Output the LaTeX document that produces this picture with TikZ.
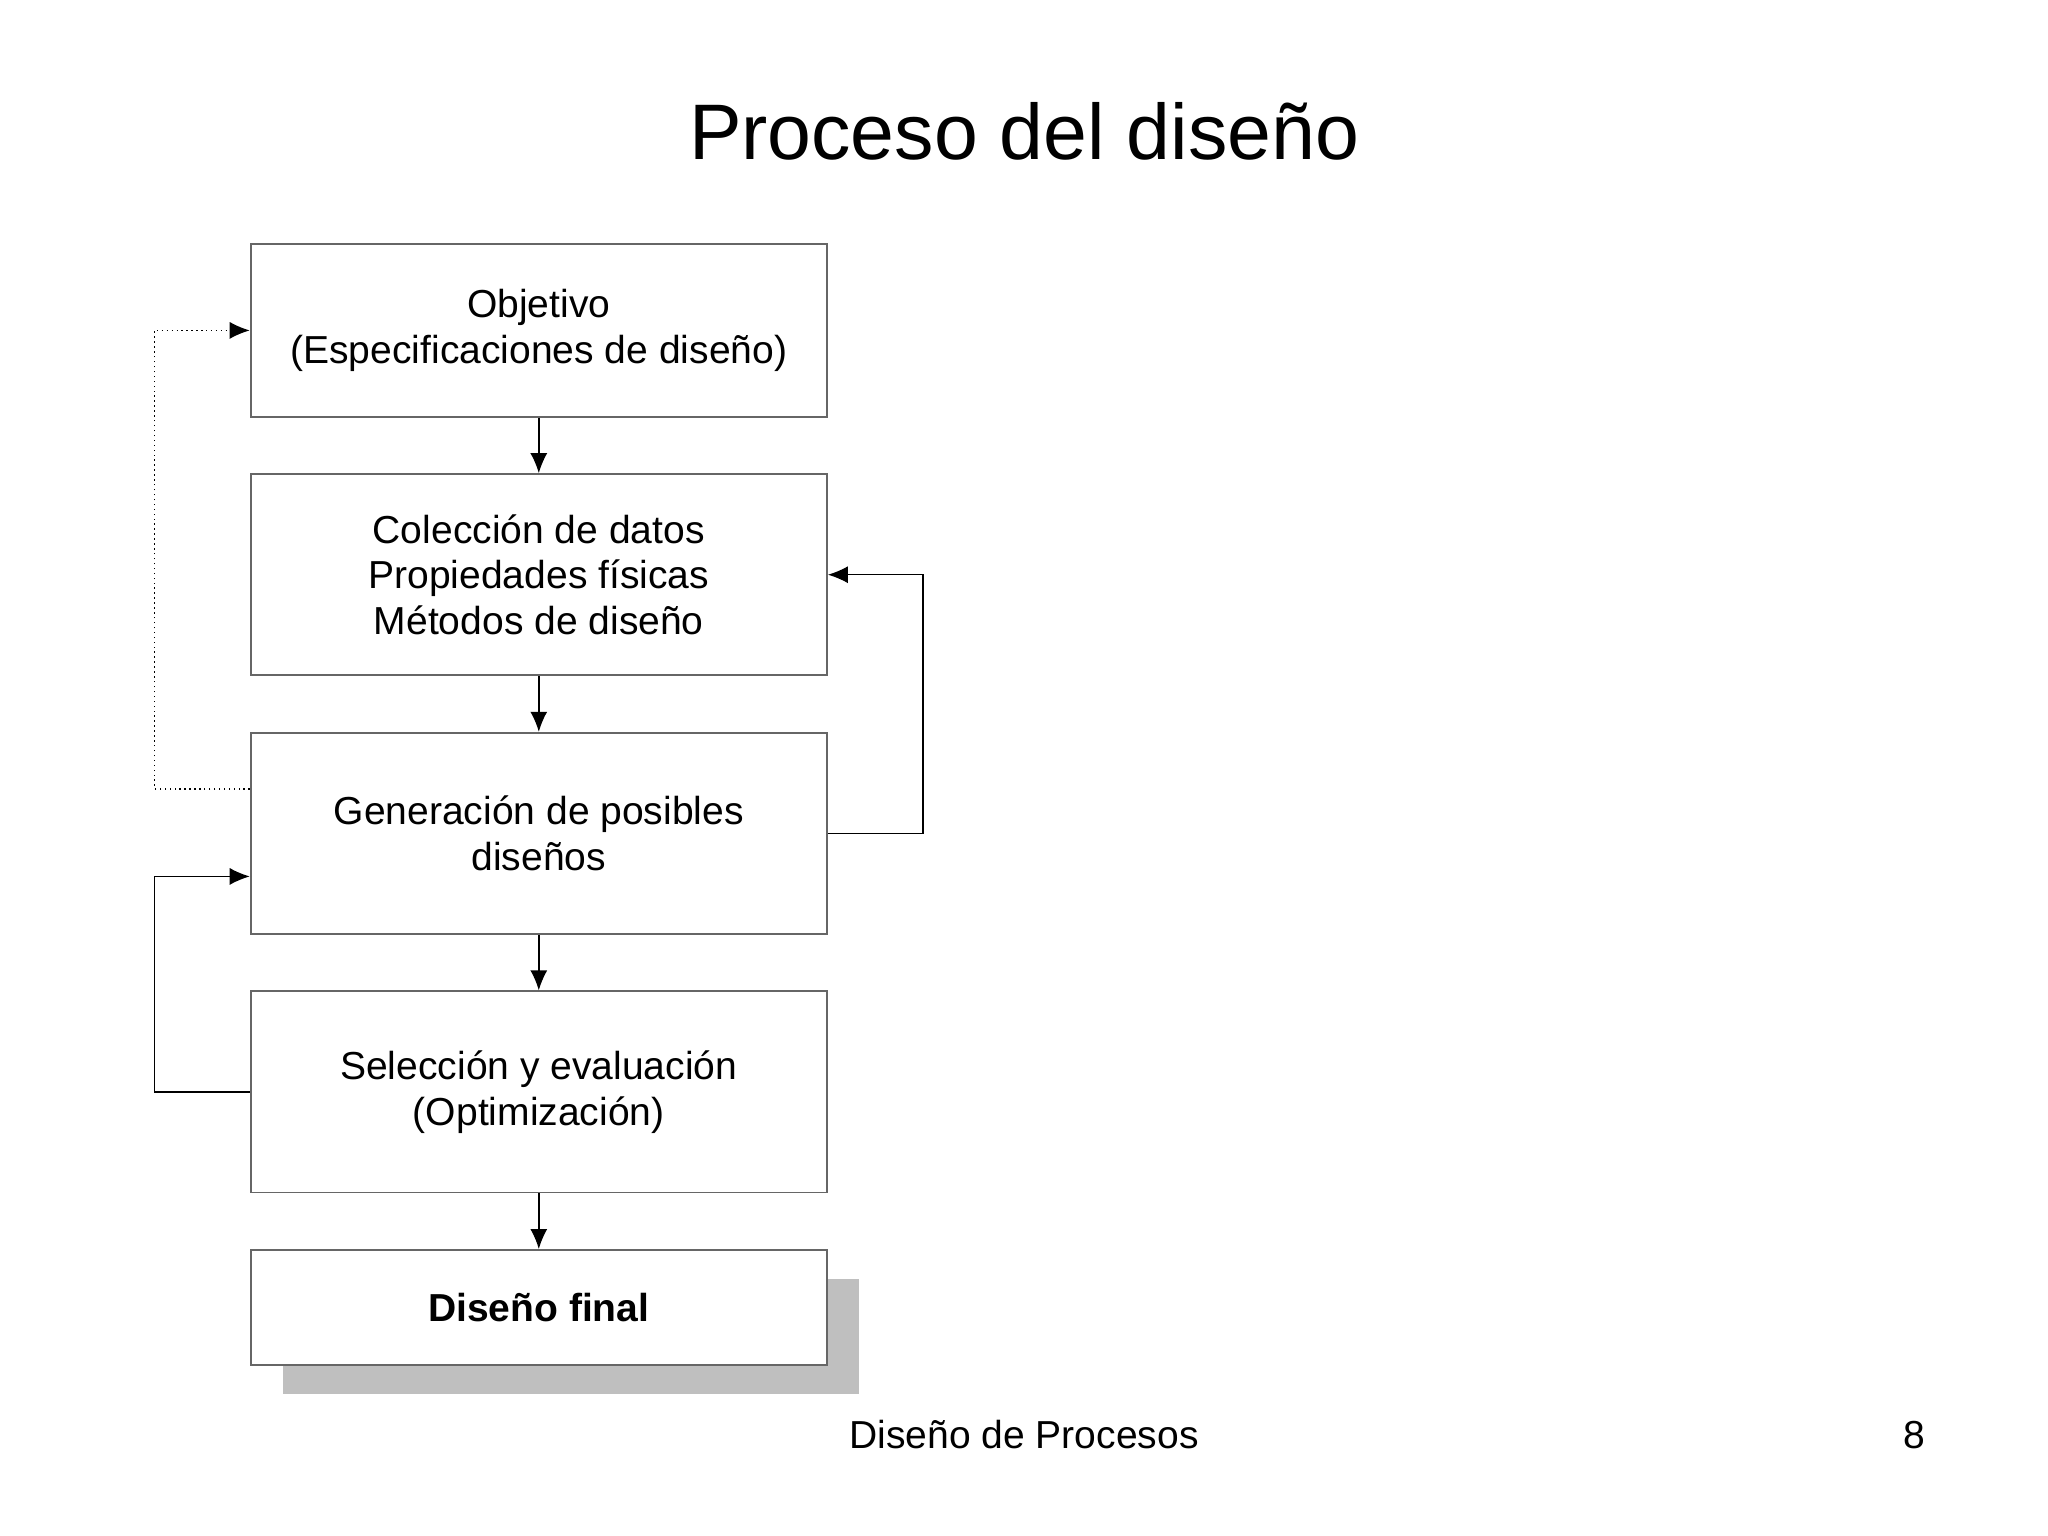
\documentclass[tikz,border=0pt]{standalone}
\usepackage{fontspec}
\setmainfont{Liberation Sans}
\usepackage{tikz}
\usetikzlibrary{arrows.meta,shadows}

\begin{document}
\begin{tikzpicture}[
    x=0.01cm,
    y=-0.01cm,
    stepbox/.style={draw=black!60,line width=0.5pt,fill=white,minimum width=5.76cm,
        minimum height=2.012cm,align=center,inner sep=0pt,
        font=\fontsize{11.1}{13}\selectfont},
    flow/.style={-{Latex[length=0.2cm,width=0.17cm]},draw=black,line width=0.4pt},
    feedback/.style={flow,densely dotted}
]

\useasboundingbox (0,0) rectangle (2048,1536);

% Title.
\node[font=\fontsize{22.4}{26}\selectfont] (title) at (1024,131) {Proceso del diseño};

% Process steps.
\node[stepbox,minimum height=1.724cm] (obj) at (538.8,330.4)
    {Objetivo\\(Especificaciones de diseño)};
\node[stepbox] (datos) at (538.8,574.7)
    {Colección de datos\\Propiedades físicas\\Métodos de diseño};
\node[stepbox] (gen) at (538.8,833.3)
    {Generación de posibles\\diseños};
\node[stepbox] (sel) at (538.8,1091.9)
    {Selección y evaluación\\(Optimización)};
\node[stepbox,minimum height=1.149cm,font=\fontsize{11.1}{13}\selectfont\bfseries,
    drop shadow={shadow xshift=0.32cm,shadow yshift=-0.29cm,fill=black!25,opacity=1}]
    (final) at (538.8,1307.4) {Diseño final};

% Main flow.
\draw[flow] (obj) -- (datos);
\draw[flow] (datos) -- (gen);
\draw[flow] (gen) -- (sel);
\draw[flow] (sel) -- (final);

% Feedback loops.
\draw[feedback] ([yshift=0.444cm]gen.west) -- ++(-95.4,0) |- (obj.west);
\draw[flow] (gen.east) -- ++(95.3,0) |- (datos.east);
\draw[flow] (sel.west) -- ++(-95.4,0) |- ([yshift=-0.431cm]gen.west);

% Footer.
\node[font=\fontsize{11.1}{13}\selectfont] (footer) at (1024,1435) {Diseño de Procesos};
\node[font=\fontsize{11.1}{13}\selectfont] (page) at (1914.7,1435) {8};

\end{tikzpicture}
\end{document}
